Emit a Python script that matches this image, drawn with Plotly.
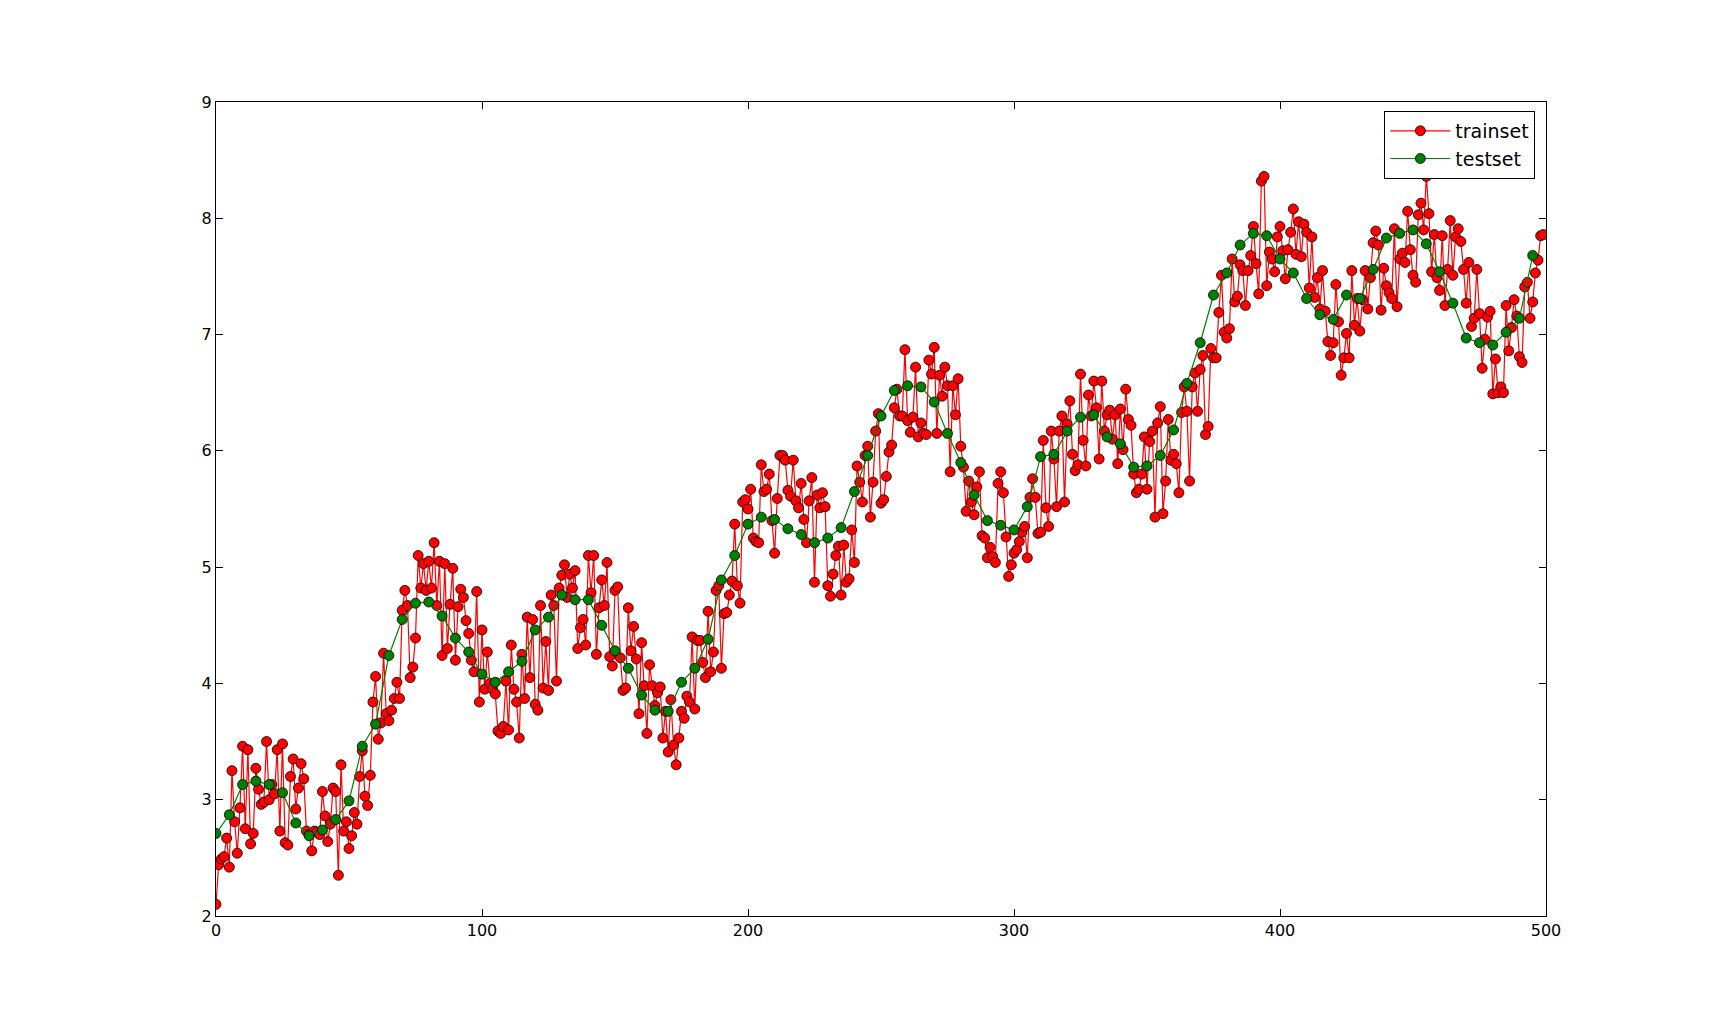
import plotly.graph_objects as go

trainset = [
    2.10, 2.44, 2.49, 2.51, 2.67, 2.42, 3.25, 2.81, 2.54, 2.93,
    3.46, 2.75, 3.43, 2.62, 2.71, 3.27, 3.09, 2.96, 2.98, 3.50,
    3.00, 3.13, 3.05, 3.43, 2.73, 3.48, 2.63, 2.61, 3.20, 3.35,
    2.92, 3.10, 3.31, 3.18, 2.73, 2.70, 2.56, 2.73, 2.72, 2.70,
    3.07, 2.86, 2.64, 2.79, 3.10, 3.07, 2.35, 3.30, 2.73, 2.81,
    2.58, 2.69, 2.89, 2.79, 3.20, 3.42, 3.03, 2.95, 3.21, 3.84,
    4.06, 3.52, 3.66, 4.26, 3.74, 3.68, 3.77, 3.87, 4.01, 3.87,
    4.63, 4.80, 4.67, 4.05, 4.14, 4.39, 5.10, 4.82, 5.03, 4.80,
    5.05, 4.82, 5.21, 4.67, 5.05, 4.24, 5.03, 4.30, 4.68, 4.99,
    4.20, 4.66, 4.81, 4.74, 4.54, 4.43, 4.20, 4.10, 4.79, 3.84,
    4.46, 3.95, 4.27, 4.00, 3.95, 3.91, 3.59, 3.57, 3.63, 4.02,
    3.60, 4.33, 3.95, 3.84, 3.53, 4.25, 3.87, 4.57, 4.05, 4.55,
    3.82, 3.77, 4.67, 3.96, 4.36, 3.94, 4.76, 4.67, 4.02, 4.82,
    4.93, 5.02, 4.74, 4.94, 4.82, 4.97, 4.30, 4.48, 4.55, 4.33,
    5.10, 4.78, 5.10, 4.25, 4.65, 4.89, 4.67, 5.04, 4.23, 4.15,
    4.80, 4.83, 4.22, 3.94, 3.96, 4.65, 4.28, 4.49, 4.21, 3.74,
    4.35, 3.98, 3.57, 4.16, 3.98, 3.81, 3.92, 3.97, 3.53, 3.76,
    3.41, 3.86, 3.47, 3.30, 3.53, 3.76, 3.70, 3.89, 3.84, 4.40,
    3.78, 4.37, 4.37, 4.18, 4.05, 4.62, 4.10, 4.27, 4.80, 4.84,
    4.13, 4.60, 4.61, 4.76, 4.88, 5.37, 4.84, 4.69, 5.56, 5.58,
    5.50, 5.67, 5.25, 5.22, 5.21, 5.88, 5.65, 5.67, 5.80, 5.40,
    5.12, 5.59, 5.96, 5.96, 5.92, 5.66, 5.61, 5.92, 5.57, 5.51,
    5.72, 5.41, 5.21, 5.57, 5.77, 4.87, 5.62, 5.51, 5.64, 5.52,
    4.84, 4.75, 4.94, 5.10, 5.18, 4.76, 5.19, 4.87, 4.90, 5.32,
    5.04, 5.87, 5.73, 5.56, 5.96, 6.04, 5.43, 5.73, 6.17, 6.32,
    5.55, 5.58, 5.78, 5.99, 6.05, 6.37, 6.53, 6.30, 6.30, 6.87,
    6.26, 6.16, 6.29, 6.72, 6.12, 6.24, 6.15, 6.14, 6.78, 6.66,
    6.89, 6.15, 6.65, 6.47, 6.72, 6.56, 5.82, 6.56, 6.31, 6.62,
    6.04, 5.86, 5.48, 5.74, 5.56, 5.45, 5.69, 5.82, 5.27, 5.25,
    5.08, 5.17, 5.09, 5.04, 5.72, 5.82, 5.64, 5.26, 4.92, 5.02,
    5.12, 5.15, 5.22, 5.30, 5.35, 5.08, 5.60, 5.76, 5.60, 5.29,
    5.30, 6.09, 5.51, 5.35, 6.17, 5.93, 5.52, 6.17, 6.30, 5.56,
    6.23, 6.43, 5.97, 5.83, 5.88, 6.66, 6.09, 5.87, 6.48, 6.30,
    6.60, 6.37, 5.93, 6.60, 6.17, 6.31, 6.35, 6.10, 6.31, 5.89,
    6.36, 6.01, 6.53, 6.27, 6.22, 5.80, 5.64, 5.67, 5.80, 6.12,
    5.67, 6.08, 6.17, 5.43, 6.24, 6.38, 5.46, 5.74, 6.27, 5.92,
    5.97, 5.89, 5.64, 6.33, 6.55, 6.34, 5.74, 6.55, 6.67, 6.34,
    6.70, 6.82, 6.14, 6.21, 6.88, 6.80, 6.80, 7.19, 7.51, 7.02,
    6.97, 7.05, 7.65, 7.28, 7.33, 7.60, 7.55, 7.25, 7.55, 7.68,
    7.93, 7.61, 7.35, 8.32, 8.36, 7.42, 7.71, 7.65, 7.54, 7.84,
    7.93, 7.72, 7.48, 7.73, 7.88, 8.08, 7.69, 7.97, 7.67, 7.95,
    7.88, 7.40, 7.84, 7.32, 7.49, 7.22, 7.55, 7.20, 6.94, 6.82,
    6.93, 7.43, 7.11, 6.65, 6.80, 7.01, 6.80, 7.55, 7.08, 7.31,
    7.03, 7.30, 7.55, 7.22, 7.49, 7.79, 7.89, 7.77, 7.21, 7.57,
    7.42, 7.36, 7.31, 7.91, 7.24, 7.65, 7.70, 7.62, 8.06, 7.73,
    7.51, 7.45, 8.03, 8.13, 7.90, 8.36, 8.04, 7.54, 7.86, 7.49,
    7.38, 7.85, 7.25, 7.56, 7.98, 7.51, 7.84, 7.91, 7.80, 7.56,
    7.27, 7.62, 7.07, 7.14, 7.56, 7.18, 6.71, 6.96, 7.15, 7.20,
    6.49, 6.79, 6.50, 6.55, 6.50, 7.25, 6.86, 7.06, 7.30, 7.16,
    6.81, 6.76, 7.41, 7.45, 7.14, 7.28, 7.53, 7.64, 7.85, 7.86,
]

testset = [
    2.71, 2.87, 3.13, 3.16, 3.13, 3.06, 2.80, 2.69, 2.74, 2.83,
    2.99, 3.46, 3.65, 4.24, 4.55, 4.69, 4.70, 4.58, 4.39, 4.27,
    4.08, 4.01, 4.10, 4.19, 4.46, 4.57, 4.76, 4.72, 4.72, 4.50,
    4.28, 4.13, 3.90, 3.77, 3.76, 4.01, 4.13, 4.38, 4.89, 5.10,
    5.37, 5.43, 5.41, 5.33, 5.28, 5.21, 5.25, 5.34, 5.65, 5.96,
    6.30, 6.52, 6.56, 6.55, 6.42, 6.15, 5.90, 5.62, 5.40, 5.36,
    5.32, 5.52, 5.95, 5.97, 6.17, 6.29, 6.31, 6.12, 6.06, 5.86,
    5.87, 5.96, 6.18, 6.58, 6.93, 7.34, 7.53, 7.77, 7.87, 7.85,
    7.65, 7.53, 7.31, 7.17, 7.13, 7.34, 7.31, 7.56, 7.83, 7.87,
    7.90, 7.78, 7.54, 7.27, 6.97, 6.93, 6.91, 7.02, 7.14, 7.68,
]

test_step = 5
train_x = list(range(len(trainset)))
test_x = [i * test_step for i in range(len(testset))]

x_ticks = [0, 100, 200, 300, 400, 500]
y_ticks = [2, 3, 4, 5, 6, 7, 8, 9]

FONT = "DejaVu Sans"

fig = go.Figure()
fig.add_trace(go.Scatter(
    x=train_x, y=trainset, name="trainset", mode="lines+markers",
    line=dict(color="#ff0000", width=1.2),
    marker=dict(color="#ff0000", size=10, line=dict(color="black", width=0.8)),
))
fig.add_trace(go.Scatter(
    x=test_x, y=testset, name="testset", mode="lines+markers",
    line=dict(color="#008000", width=1.2),
    marker=dict(color="#008000", size=10, line=dict(color="black", width=0.8)),
))

axis_common = dict(
    showgrid=False, zeroline=False, showline=True, linecolor="black",
    linewidth=1.2, mirror="ticks", ticks="inside", ticklen=7,
    tickcolor="black", tickwidth=1,
    tickfont=dict(family=FONT, size=16, color="black"),
)

fig.update_layout(
    width=1718, height=1017,
    paper_bgcolor="white", plot_bgcolor="white",
    margin=dict(l=208, r=180, t=94, b=109, pad=0),
    xaxis=dict(range=[0, 500], tickvals=x_ticks, **axis_common),
    yaxis=dict(range=[2, 9], tickvals=y_ticks, **axis_common),
    showlegend=True,
    legend=dict(
        x=0.992, y=0.989, xanchor="right", yanchor="top",
        bordercolor="black", borderwidth=1, bgcolor="white",
        font=dict(family=FONT, size=19, color="black"),
        itemwidth=60, tracegroupgap=2,
    ),
    font=dict(family=FONT),
)

fig.write_html("out.html")
